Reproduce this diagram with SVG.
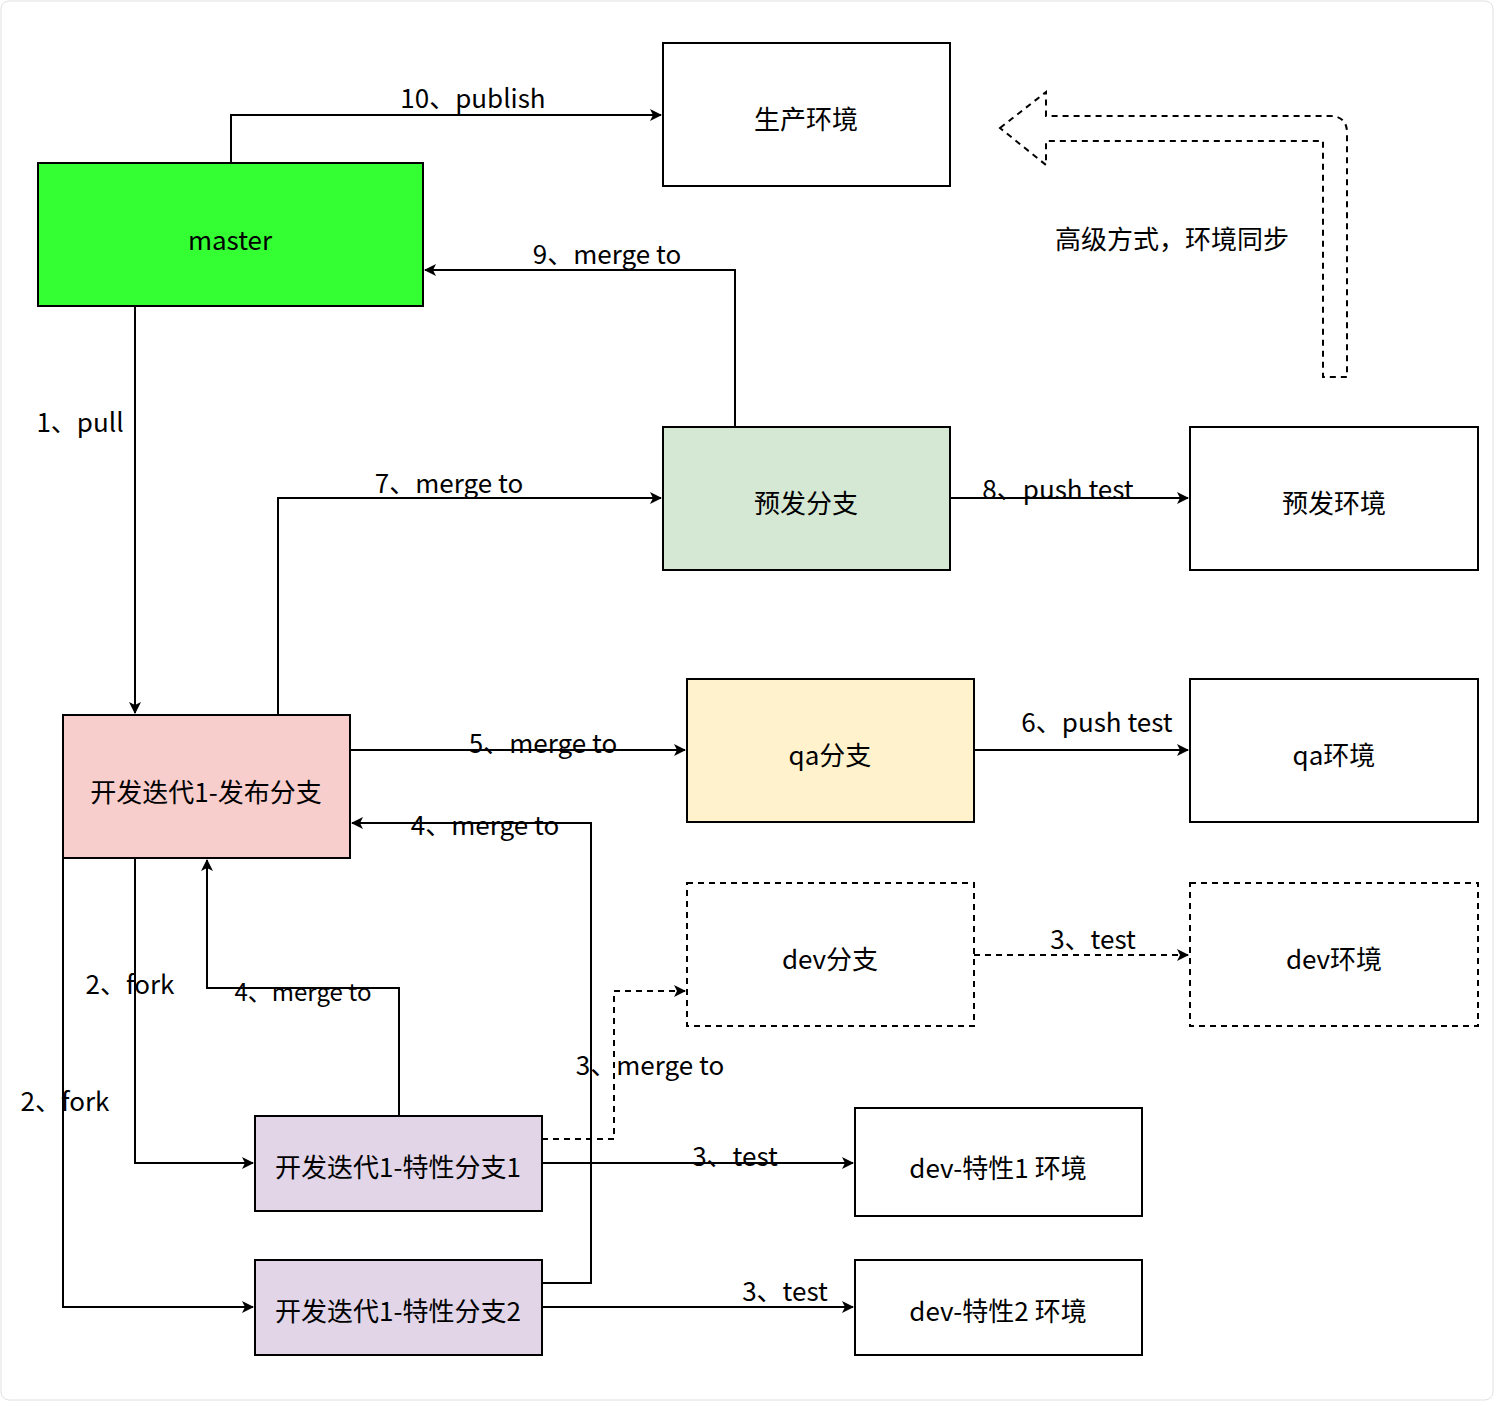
<svg xmlns="http://www.w3.org/2000/svg" width="1498" height="1406" viewBox="0 0 1498 1406">
<style>
text{font-family:"Noto Sans CJK SC","Noto Sans",sans-serif;font-size:26px;fill:#000;text-anchor:middle;dominant-baseline:central}
.n rect{stroke:#000;stroke-width:2}
.d rect{stroke-dasharray:6 5}
.c path{fill:none;stroke:#000;stroke-width:2}
.c .dash{stroke-dasharray:6 5}
.l{font-size:26px}
</style>
<defs><marker id="a" viewBox="0 0 12 12" refX="11" refY="6" markerWidth="12" markerHeight="12" markerUnits="userSpaceOnUse" orient="auto"><path d="M0,0 L12,6 L0,12 L3,6 Z" fill="#000"/></marker></defs>
<rect x="1" y="1" width="1492" height="1399" rx="8" fill="#fff" stroke="#e0e0e0"/>
<g class="c">
<path d="M231,163 V115 H661" marker-end="url(#a)"/>
<path d="M735,427 V270 H425" marker-end="url(#a)"/>
<path d="M135,306 V713" marker-end="url(#a)"/>
<path d="M278,715 V498 H661" marker-end="url(#a)"/>
<path d="M950,498 H1188" marker-end="url(#a)"/>
<path d="M350,750 H685" marker-end="url(#a)"/>
<path d="M974,750 H1188" marker-end="url(#a)"/>
<path d="M542,1283 H591 V823 H352" marker-end="url(#a)"/>
<path d="M399,1116 V988 H207 V860" marker-end="url(#a)"/>
<path d="M135,858 V1163 H253" marker-end="url(#a)"/>
<path d="M63,858 V1307 H253" marker-end="url(#a)"/>
<path class="dash" d="M542,1139 H614 V991 H685" marker-end="url(#a)"/>
<path d="M542,1163 H853" marker-end="url(#a)"/>
<path d="M542,1307 H853" marker-end="url(#a)"/>
<path class="dash" d="M974,955 H1188" marker-end="url(#a)"/>
<path class="dash" d="M1000,128 L1046,92 V116 H1330 Q1347,116 1347,133 V377 H1323 V141 H1046 V165 Z"/>
</g>
<g>
<text x="473" y="96">10、publish</text>
<text x="607" y="252">9、merge to</text>
<text x="80" y="420">1、pull</text>
<text x="449" y="481">7、merge to</text>
<text x="1058" y="487">8、push test</text>
<text x="543" y="741">5、merge to</text>
<text x="1097" y="720">6、push  test</text>
<text x="485" y="823">4、merge to</text>
<text x="303" y="990" style="font-size:24px">4、merge to</text>
<text x="130" y="982">2、fork</text>
<text x="65" y="1099">2、fork</text>
<text x="650" y="1063">3、merge to</text>
<text x="735" y="1154">3、test</text>
<text x="785" y="1289">3、test</text>
<text x="1093" y="937">3、test</text>
<text x="1172" y="237">高级方式，环境同步</text>
</g>
<g id="prod" class="n"><rect x="663" y="43" width="287" height="143" fill="#fff"/><text x="806" y="117">生产环境</text></g>
<g id="master" class="n"><rect x="38" y="163" width="385" height="143" fill="#33ff33"/><text x="230" y="238">master</text></g>
<g id="pre" class="n"><rect x="663" y="427" width="287" height="143" fill="#d5e8d4"/><text x="806" y="501">预发分支</text></g>
<g id="preenv" class="n"><rect x="1190" y="427" width="288" height="143" fill="#fff"/><text x="1334" y="501">预发环境</text></g>
<g id="qa" class="n"><rect x="687" y="679" width="287" height="143" fill="#fff2cc"/><text x="830" y="753">qa分支</text></g>
<g id="qaenv" class="n"><rect x="1190" y="679" width="288" height="143" fill="#fff"/><text x="1334" y="753">qa环境</text></g>
<g id="release" class="n"><rect x="63" y="715" width="287" height="143" fill="#f8cecc"/><text x="206" y="790">开发迭代1-发布分支</text></g>
<g id="dev" class="n d"><rect x="687" y="883" width="287" height="143" fill="#fff"/><text x="830" y="957">dev分支</text></g>
<g id="devenv" class="n d"><rect x="1190" y="883" width="288" height="143" fill="#fff"/><text x="1334" y="957">dev环境</text></g>
<g id="f1" class="n"><rect x="255" y="1116" width="287" height="95" fill="#e1d5e7"/><text x="398" y="1165">开发迭代1-特性分支1</text></g>
<g id="f2" class="n"><rect x="255" y="1260" width="287" height="95" fill="#e1d5e7"/><text x="398" y="1309">开发迭代1-特性分支2</text></g>
<g id="f1env" class="n"><rect x="855" y="1108" width="287" height="108" fill="#fff"/><text x="998" y="1166">dev-特性1 环境</text></g>
<g id="f2env" class="n"><rect x="855" y="1260" width="287" height="95" fill="#fff"/><text x="998" y="1309">dev-特性2 环境</text></g>
</svg>
